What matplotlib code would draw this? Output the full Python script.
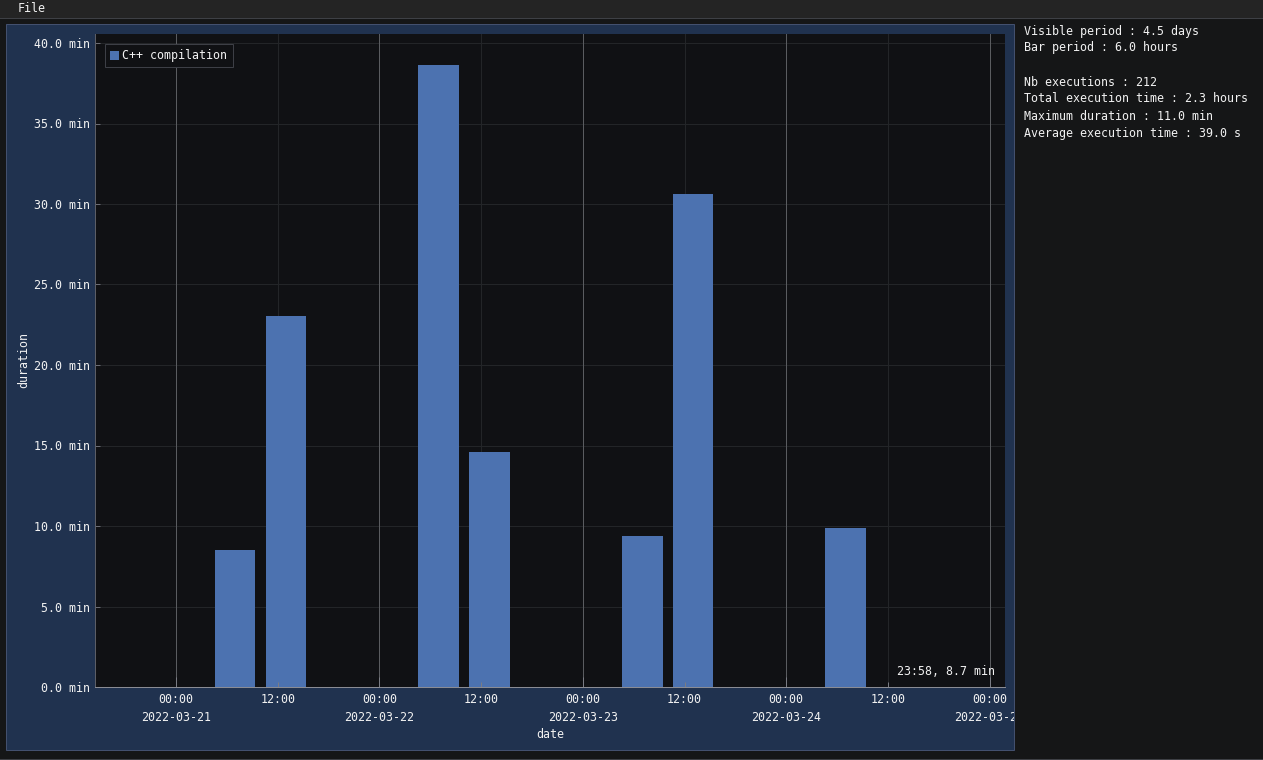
import matplotlib
matplotlib.use("Agg")
import matplotlib.pyplot as plt
from matplotlib.patches import Rectangle
from matplotlib.transforms import Bbox

W, H = 1263, 760
FONT = "DejaVu Sans Mono"
FS = 8.35
plt.rcParams["font.family"] = FONT
plt.rcParams["font.size"] = FS

# data (x in days after 2022-03-21 00:00)
bar_days = [0.291, 0.542, 1.291, 1.542, 2.293, 2.542, 3.292]
bar_minutes = [8.5, 23.05, 38.65, 14.6, 9.38, 30.63, 9.88]
bar_width_days = 0.199
series_name = "C++ compilation"
y_ticks = [0, 5, 10, 15, 20, 25, 30, 35, 40]
y_labels = ["0.0 min", "5.0 min", "10.0 min", "15.0 min", "20.0 min",
            "25.0 min", "30.0 min", "35.0 min", "40.0 min"]
day_ticks = [0, 1, 2, 3, 4]
day_labels = ["00:00\n2022-03-21", "00:00\n2022-03-22", "00:00\n2022-03-23",
              "00:00\n2022-03-24", "00:00\n2022-03-25"]
noon_ticks = [0.5, 1.5, 2.5, 3.5]
noon_labels = ["12:00", "12:00", "12:00", "12:00"]
info_lines = [
    (31, "Visible period : 4.5 days"),
    (48, "Bar period : 6.0 hours"),
    (82, "Nb executions : 212"),
    (99, "Total execution time : 2.3 hours"),
    (116, "Maximum duration : 11.0 min"),
    (133, "Average execution time : 39.0 s"),
]

BG = "#151617"
PANEL = "#20324f"
PLOT = "#101114"
BAR = "#4c72b0"
TXT = "#f2f2f2"
LW = 0.72

fig = plt.figure(figsize=(W / 100, H / 100), dpi=100, facecolor=BG)


def frect(x0, y0, x1, y1, **kw):
    r = Rectangle((x0 / W, 1 - y1 / H), (x1 - x0) / W, (y1 - y0) / H,
                  transform=fig.transFigure, zorder=-5, **kw)
    fig.add_artist(r)


def ftext(x, y, s, **kw):
    kw.setdefault("color", TXT)
    kw.setdefault("va", "center")
    return fig.text(x / W, 1 - y / H, s, **kw)


# window chrome
frect(0, 0, W, 18, fc="#242424", ec="none")
frect(0, 18, W, 19, fc="#3e4045", ec="none")
frect(0, 759, W, 760, fc="#3e4045", ec="none")
frect(6, 24, 1014, 750, fc=PANEL, ec="#43506e", lw=LW)
ftext(18, 9, "File")

L, R, T, B = 95, 1005, 34, 687
ax = fig.add_axes([L / W, 1 - B / H, (R - L) / W, (B - T) / H], facecolor=PLOT)
ax.set_xlim(-(176 - L) / 203.4, (R - 176) / 203.4)
ax.set_ylim(0, (B - T) / (644 / 40))

for v in y_ticks:
    ax.axhline(v, color="#232528", lw=LW, zorder=0.5)
for d in noon_ticks:
    ax.axvline(d, color="#232528", lw=LW, zorder=0.5)
for d in day_ticks:
    ax.axvline(d, color="#5a5c60", lw=LW, zorder=0.5)

ax.bar(bar_days, bar_minutes, width=bar_width_days, color=BAR, zorder=1,
       label=series_name)

ax.set_yticks(y_ticks, y_labels)
ax.set_xticks(day_ticks, day_labels)
ax.set_xticks(noon_ticks, noon_labels, minor=True)
ax.tick_params(axis="y", direction="in", length=3.6, width=LW, color="#6a6c74",
               labelcolor=TXT, labelsize=FS, pad=3.6)
ax.tick_params(axis="x", which="major", direction="in", length=7, width=LW,
               color="#7a7c84", labelcolor=TXT, labelsize=FS, pad=4.2)
ax.tick_params(axis="x", which="minor", direction="in", length=3.6, width=LW,
               color="#7a7c84", labelcolor=TXT, labelsize=FS, pad=4.2)

clip = Bbox.from_extents(6, 0, 1014, H)
for lab in ax.get_xticklabels():
    lab.set_linespacing(1.55)
    lab.set_clip_box(clip)
    lab.set_clip_on(True)

for s in ("top", "right"):
    ax.spines[s].set_visible(False)
ax.spines["left"].set_color("#5c5e66")
ax.spines["bottom"].set_color("#8a8c94")
ax.spines["left"].set_linewidth(LW)
ax.spines["bottom"].set_linewidth(LW)

leg = ax.legend(loc="upper left", bbox_to_anchor=((105 - L) / (R - L), 1 - (44 - T) / (B - T)),
                borderaxespad=0, fancybox=False, frameon=True, facecolor=PLOT,
                edgecolor="#3d3f46", framealpha=1, fontsize=FS,
                handlelength=0.8, handleheight=0.8, handletextpad=0.25,
                borderpad=0.45, labelcolor=TXT)
leg.get_frame().set_linewidth(LW)

ftext(550, 735, "date", ha="center")
ftext(23.5, 360, "duration", ha="center", rotation=90)
ftext(995, 671.5, "23:58, 8.7 min", ha="right")

for y, s in info_lines:
    ftext(1024, y, s)

fig.savefig("out.png", dpi=100, facecolor=BG)
